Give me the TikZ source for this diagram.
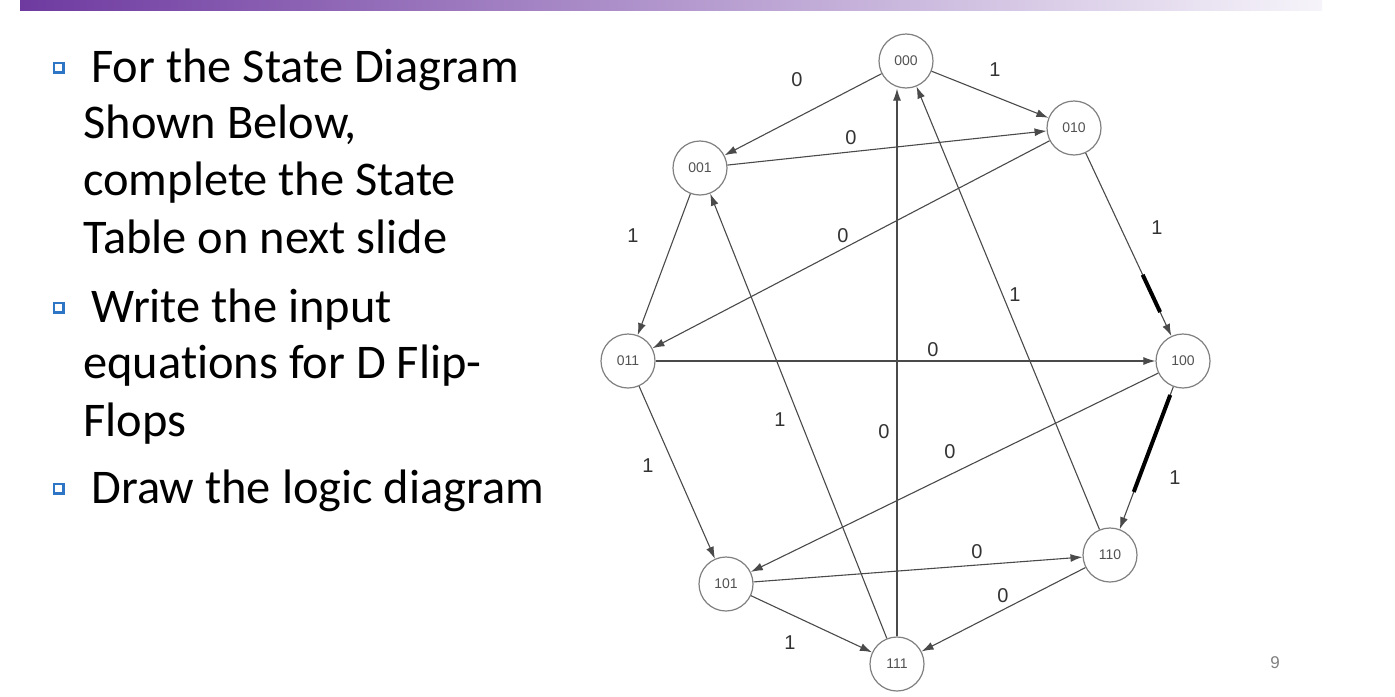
\documentclass[tikz,border=0pt]{standalone}
\usepackage{fontspec}
\setmainfont{Carlito}[Ligatures=NoCommon]
\newfontfamily\arial{Liberation Sans}
\usetikzlibrary{arrows.meta,calc}
\definecolor{barL}{HTML}{6E3AA0}
\definecolor{barR}{HTML}{F6F4FA}
\definecolor{bulblue}{HTML}{2E75C6}
\definecolor{edgec}{HTML}{4A4A4A}
\definecolor{circc}{HTML}{808080}
\definecolor{lblc}{HTML}{333333}
\tikzset{
  x=0.5pt, y=-0.5pt,
  st/.style={circle, draw=circc, line width=0.6pt, minimum size=27pt, inner sep=0pt,
             font=\arial\fontsize{7}{8}\selectfont, text=lblc!85},
  tr/.style={draw=edgec, line width=0.55pt, -{Latex[length=6pt,width=4pt]}},
  el/.style={font=\arial\fontsize{10}{11}\selectfont, text=lblc, inner sep=0pt},
  txt/.style={anchor=base west, inner sep=0pt, font=\fontsize{24.2}{28}\selectfont},
  thk/.style={draw=black, line width=2pt}
}
\newcommand{\mybullet}[2]{%
  \fill[bulblue] (#1,#2) rectangle ++(12,12);
  \fill[white] ($(#1,#2)+(1.5,1.5)$) rectangle ++(7.5,7.5);
}
\begin{document}
\begin{tikzpicture}
\useasboundingbox (0,0) rectangle (1395,696);
\fill[white] (0,0) rectangle (1395,696);
% top bar
\shade[left color=barL, right color=barR] (20,0) rectangle (1322,10);
% bullets
\mybullet{53}{62}
\mybullet{53}{302}
\mybullet{53}{483}
% text
\node[txt] (t1) at (80,82) {\ For the State Diagram};
\node[txt] (t2) at (83,138) {Shown Below,};
\node[txt] (t3) at (83,195) {complete the State};
\node[txt] (t4) at (83,253) {Table on next slide};
\node[txt] (t5) at (80,322) {\ Write the input};
\node[txt] (t6) at (83,378) {equat\kern0pt ions for D Flip-};
\node[txt] (t7) at (83,436) {Flops};
\node[txt] (t8) at (80,503) {\ Draw the logic diagram};
% page number
\node[font=\arial\fontsize{8.5}{10}\selectfont, text=gray] (pg) at (1275,663) {9};
% states
\node[st] (s000) at (906,61) {000};
\node[st] (s010) at (1074,128) {010};
\node[st] (s001) at (700,168) {001};
\node[st] (s011) at (628,361) {011};
\node[st] (s100) at (1183,361) {100};
\node[st] (s101) at (726,584) {101};
\node[st] (s110) at (1110,555) {110};
\node[st] (s111) at (897,664) {111};
% transitions
\draw[tr] (s000) -- (s001);
\draw[tr] (s000) -- (s010);
\draw[tr] (s001) -- (s010);
\draw[tr] (s001) -- (s011);
\draw[tr] (s010) -- (s011);
\draw[tr] (s010) -- (s100);
\draw[tr] (s011) -- (s100);
\draw[tr] (s011) -- (s101);
\draw[tr] (s100) -- (s101);
\draw[tr] (s100) -- (s110);
\draw[tr] (s101) -- (s110);
\draw[tr] (s101) -- (s111);
\draw[tr] (s110) -- (s111);
\draw[tr] (s110) -- (s000);
\draw[tr] (s111.north) -- (s111 |- s000.south);
\draw[tr] (s111) -- (s001);
% thick segments
\draw[thk] ($(s010)!0.63!(s100)$) -- ($(s010)!0.79!(s100)$);
\draw[thk] ($(s100)!0.175!(s110)$) -- ($(s100)!0.675!(s110)$);
% labels
\node[el] (a1) at (797,80) {0};
\node[el] (a2) at (995,70) {1};
\node[el] (a3) at (851,138) {0};
\node[el] (a4) at (633,236) {1};
\node[el] (a5) at (843,236) {0};
\node[el] (a6) at (1157,228) {1};
\node[el] (a7) at (933,350) {0};
\node[el] (a8) at (648,466) {1};
\node[el] (a9) at (950,452) {0};
\node[el] (a10) at (1175,478) {1};
\node[el] (a11) at (977,552) {0};
\node[el] (a12) at (790,643) {1};
\node[el] (a13) at (1003,596) {0};
\node[el] (a14) at (1015,295) {1};
\node[el] (a15) at (884,432) {0};
\node[el] (a16) at (780,420) {1};
\end{tikzpicture}
\end{document}
